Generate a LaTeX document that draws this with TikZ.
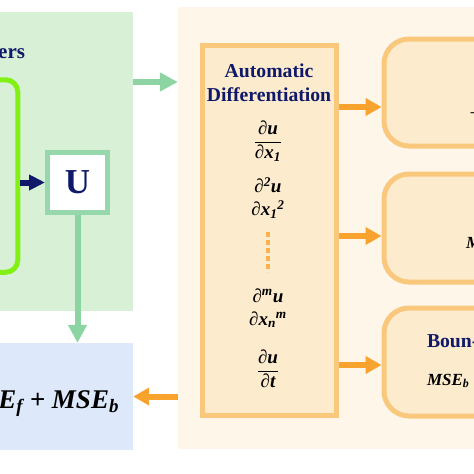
\documentclass[tikz,border=0pt]{standalone}
\usepackage{fontspec}
\setmainfont{Liberation Serif}
\usepackage{amsmath}
\usetikzlibrary{arrows.meta, positioning}

\definecolor{panelgreen}{RGB}{216,241,214}
\definecolor{panelblue}{RGB}{221,233,250}
\definecolor{panelcream}{RGB}{254,246,232}
\definecolor{boxcream}{RGB}{253,235,206}
\definecolor{limeline}{RGB}{130,240,20}
\definecolor{ugreen}{RGB}{150,215,172}
\definecolor{arrowgreen}{RGB}{140,212,162}
\definecolor{arroworange}{RGB}{247,163,45}
\definecolor{lineorange}{RGB}{250,200,125}
\definecolor{navy}{RGB}{15,25,105}

\newcommand{\headfont}{\fontsize{19.7}{22}\selectfont\bfseries}
\newcommand{\mathsize}{\fontsize{19}{22}\selectfont\bfseries\itshape}

\tikzset{
  panel/.style={rectangle, inner sep=0pt},
  txt/.style={inner sep=0pt, outer sep=0pt},
  head/.style={txt, text=navy, font=\headfont},
  deriv/.style={txt, font=\mathsize, align=center},
  orangebox/.style={draw=lineorange, line width=5pt, fill=boxcream},
  garrow/.style={draw=arrowgreen, line width=6pt, -{Triangle[length=18pt,width=18pt]}},
  oarrow/.style={draw=arroworange, line width=6pt, -{Triangle[length=16pt,width=17pt]}},
  narrow/.style={draw=navy, line width=6pt, -{Triangle[length=16pt,width=15pt]}}
}

\begin{document}
\begin{tikzpicture}[x=1pt, y=-1pt]
  \useasboundingbox (0,0) rectangle (474,474);
  \clip (0,0) rectangle (474,474);

  % left column
  \node[panel, fill=panelgreen, minimum width=240, minimum height=299] (net) at (13,161.5) {};
  \node[head, anchor=base east, font=\fontsize{21}{24}\selectfont\bfseries] (nettitle) at (25,58) {Layers};
  \node[draw=limeline, line width=5pt, rounded corners=12pt, minimum width=117.5, minimum height=192.5] (nn) at (-41,176) {};
  \node[draw=ugreen, line width=5pt, fill=white, minimum width=60, minimum height=60,
        text=navy, font=\fontsize{35}{38}\selectfont\bfseries] (U) at (77.5,182.5) {U};
  \node[panel, fill=panelblue, minimum width=240, minimum height=107] (loss) at (13,396.5) {};
  \node[txt, anchor=base east, font=\fontsize{27}{29}\selectfont\bfseries\itshape] (losstext) at (119,408)
    {MSE = MSE\textsubscript{f} + MSE\textsubscript{b}};

  % right column
  \node[panel, fill=panelcream, minimum width=422, minimum height=442] (cream) at (389,228) {};
  \node[orangebox, minimum width=134, minimum height=370] (ad) at (269,230) {};
  \node[head, anchor=base] (adline1) at (269,77) {Automatic};
  \node[head, anchor=base] (adline2) at (269,101) {Differentiation};
  \node[deriv] (d1) at (268,141) {$\dfrac{\text{∂u}}{\text{∂x\textsubscript{1}}}$};
  \node[deriv] (d2) at (268,198) {∂\textsuperscript{2}u\\[1pt] ∂x\textsubscript{1}\textsuperscript{2}};
  \node[deriv] (d3) at (268,308) {∂\textsuperscript{m}u\\[1pt] ∂x\textsubscript{n}\textsuperscript{m}};
  \node[deriv] (d4) at (268,369) {$\dfrac{\text{∂u}}{\text{∂t}}$};
  \draw[draw=arroworange!85, line width=4pt, dash pattern=on 5pt off 3pt] (268,232) -- (268,272);

  \node[orangebox, rounded corners=25pt, minimum width=256, minimum height=107] (r1) at (512,92.5) {};
  \node[orangebox, rounded corners=25pt, minimum width=256, minimum height=108] (r2) at (512,228) {};
  \node[orangebox, rounded corners=25pt, minimum width=256, minimum height=108] (r3) at (512,362) {};
  \node[txt, anchor=base west, font=\fontsize{14}{16}\selectfont] (r1text) at (470,116) {-};
  \node[txt, anchor=base west, font=\fontsize{17}{19}\selectfont\bfseries\itshape] (r2text) at (466,248) {MSE\textsubscript{f}};
  \node[head, anchor=base west] (r3title) at (427,347) {Boun-};
  \node[txt, anchor=base west, font=\fontsize{17}{19}\selectfont\bfseries\itshape] (r3text) at (427,385) {MSE\textsubscript{b}};

  % connectors
  \draw[narrow] (nn.east |- U.west) -- (U.west);
  \draw[garrow] (U.south) -- (U.south |- loss.north);
  \draw[garrow] ([yshift=79.5pt]net.east) -- ([yshift=79.5pt]net.east -| cream.west);
  \draw[oarrow] (cream.west |- loss.east) -- (loss.east);
  \draw[oarrow] ([yshift=-14.5pt]ad.east |- r1.west) -- ([yshift=-14.5pt]r1.west);
  \draw[oarrow] ([yshift=-8pt]ad.east |- r2.west) -- ([yshift=-8pt]r2.west);
  \draw[oarrow] ([yshift=-3pt]ad.east |- r3.west) -- ([yshift=-3pt]r3.west);
\end{tikzpicture}
\end{document}
